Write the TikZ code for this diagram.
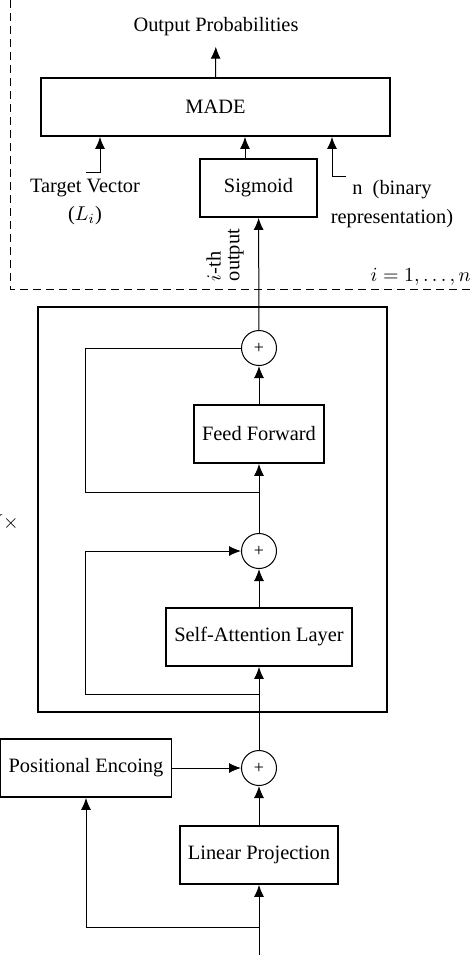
\documentclass[tikz,border=0pt]{standalone}
\usepackage{fontspec}
\setmainfont{Liberation Serif}
\usepackage{tikz}
\usetikzlibrary{arrows.meta,positioning,calc}

\begin{document}
\begin{tikzpicture}[
        x=0.5pt, y=-0.5pt,
        font=\fontsize{10.2}{12.4}\selectfont,
        >={Latex[length=6pt,width=5pt]},
        block/.style={rectangle, draw, line width=0.9pt, minimum height=29pt, inner sep=2pt},
        adder/.style={circle, draw, line width=0.5pt, minimum size=17.5pt, inner sep=0pt, font=\small},
        conn/.style={line width=0.5pt},
        lab/.style={align=center, inner sep=0pt}
    ]
        \useasboundingbox (0,0) rectangle (474,955);

        % repeated part, i = 1..n
        \draw[line width=0.5pt, dash pattern=on 4pt off 2.5pt] (10,0) -- (10,289) -- (474,289);
        \node[anchor=east, inner sep=0pt] (irange) at (471,277) {$i = 1, \ldots, n$};

        \node[lab, inner sep=5pt] (outprob) at (216,27) {Output Probabilities};
        \node[block, minimum width=174.5pt] (made) at (215.5,107) {MADE};
        \node[block, minimum width=58.5pt] (sigmoid) at (258.5,188) {Sigmoid};
        \node[lab] (target) at (85,202) {Target Vector\\[2pt]($L_i$)};
        \node[lab] (nbin) at (392,204) {n~~(binary\\[2pt]representation)};
        \node[rotate=90, align=left, inner sep=0pt] (iout) at (225,255) {$i$-th\\[-3pt]output};

        \coordinate (tvstart) at (86,172);
        \coordinate (tvx) at (100,172);
        \coordinate (nstart) at (346,176);
        \coordinate (nx) at (332,176);
        \coordinate (sigx) at (245,159);

        \draw[conn,->] (made.north) -- (outprob);
        \draw[conn,->] (tvstart) -- (tvx) -- (tvx |- made.south);
        \draw[conn,->] (nstart) -- (nx) -- (nx |- made.south);
        \draw[conn,->] (sigmoid.north) -- (sigmoid.north -| sigx) -- (sigx |- made.south);

        % encoder block, N times
        \node[draw, line width=0.9pt, minimum width=174.5pt, minimum height=202.5pt] (encoder) at (212.5,509.5) {};
        \node[anchor=east, inner sep=0pt] (nrep) at (19,522) {$N\times$};

        \node[adder] (add2) at (259,348) {+};
        \node[block, minimum width=65pt] (ff) at (259,434) {Feed Forward};
        \node[adder] (add1) at (259,551) {+};
        \node[block, minimum width=93pt] (sa) at (259,637) {Self-Attention Layer};
        \node[adder] (add0) at (259,768) {+};
        \node[block, minimum width=85.5pt] (pe) at (86,768) {Positional Encoing};
        \node[block, minimum width=79pt] (lp) at (259,855) {Linear Projection};

        \coordinate (input) at (259,955);
        \coordinate (split) at (259,927);
        \coordinate (res1) at (259,694);
        \coordinate (loopa) at (85,694);
        \coordinate (res2) at (259,492);
        \coordinate (loopb) at (85,492);

        \draw[conn,->] (input) -- (lp);
        \draw[conn,->] (split) -| (pe);
        \draw[conn,->] (lp) -- (add0);
        \draw[conn,->] (pe) -- (add0);
        \draw[conn,->] (add0) -- (sa);
        \draw[conn,->] (res1) -- (loopa) |- (add1);
        \draw[conn,->] (sa) -- (add1);
        \draw[conn,->] (add1) -- (ff);
        \draw[conn] (res2) -- (loopb) |- (add2);
        \draw[conn,->] (ff) -- (add2);
        \draw[conn,->] (add2) -- (sigmoid);
    \end{tikzpicture}
\end{document}
